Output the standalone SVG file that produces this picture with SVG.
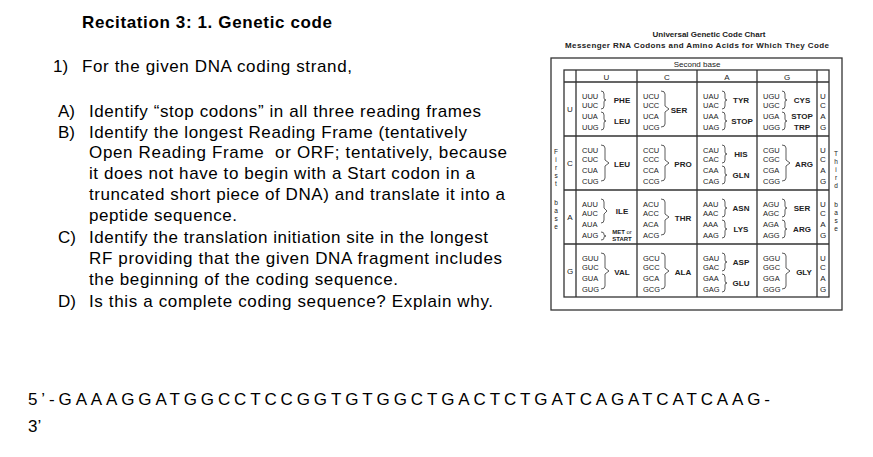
<svg xmlns="http://www.w3.org/2000/svg" width="873" height="457" viewBox="0 0 873 457">
<style>
.t{font-family:"Liberation Sans",Arial,sans-serif;font-size:17px;fill:#000}
.c{font-family:"Liberation Sans",Arial,sans-serif;font-size:7.5px;fill:#222}
.a{font-family:"Liberation Sans",Arial,sans-serif;font-size:8px;font-weight:bold;fill:#222;text-anchor:middle}
.s{font-family:"Liberation Sans",Arial,sans-serif;font-size:6px;font-weight:bold;fill:#222;text-anchor:middle}
.h{font-family:"Liberation Sans",Arial,sans-serif;font-size:8px;fill:#222;text-anchor:middle}
.v{font-family:"Liberation Sans",Arial,sans-serif;font-size:6.5px;fill:#222;text-anchor:middle}
.g{stroke:#333;stroke-width:1.3;fill:none}
.b{stroke:#333;stroke-width:0.8;fill:none}
</style>
<rect width="873" height="457" fill="#fff"/>
<g id="text">
<text class="t" x="82" y="28" font-weight="bold" textLength="250">Recitation 3: 1. Genetic code</text>
<text class="t" x="53" y="72">1)</text>
<text class="t" x="82" y="72" textLength="270">For the given DNA coding strand,</text>
<text class="t" x="58" y="117">A)</text>
<text class="t" x="89" y="117" textLength="392">Identify “stop codons” in all three reading frames</text>
<text class="t" x="58" y="138">B)</text>
<text class="t" x="89" y="138" textLength="378">Identify the longest Reading Frame (tentatively</text>
<text class="t" x="89" y="158" textLength="418" xml:space="preserve">Open Reading Frame  or ORF; tentatively, because</text>
<text class="t" x="89" y="179" textLength="386">it does not have to begin with a Start codon in a</text>
<text class="t" x="89" y="200" textLength="416">truncated short piece of DNA) and translate it into a</text>
<text class="t" x="89" y="221" textLength="148">peptide sequence.</text>
<text class="t" x="58" y="243">C)</text>
<text class="t" x="89" y="243" textLength="399">Identify the translation initiation site in the longest</text>
<text class="t" x="89" y="264" textLength="413">RF providing that the given DNA fragment includes</text>
<text class="t" x="89" y="285" textLength="309">the beginning of the coding sequence.</text>
<text class="t" x="58" y="307">D)</text>
<text class="t" x="89" y="307" textLength="404">Is this a complete coding sequence? Explain why.</text>
<text class="t" x="28" y="405" font-size="22" textLength="742">5’-GAAAGGATGGCCTCCGGTGTGGCTGACTCTGATCAGATCATCAAG-</text>
<text class="t" x="28" y="432" font-size="22">3’</text>
</g>
<g id="chart">
<text class="h" x="709" y="37" font-size="9" font-weight="bold">Universal Genetic Code Chart</text>
<text class="h" x="697" y="48" font-size="7.3" font-weight="bold" textLength="264">Messenger RNA Codons and Amino Acids for Which They Code</text>
<rect x="551" y="58" width="291" height="252" class="g"/>
<text class="h" x="697" y="67">Second base</text>
<rect x="564" y="70" width="265" height="227" class="g"/>
<path class="g" d="M576 70V297M637 70V297M697 70V297M757 70V297M817 70V297M564 82H829M564 136H829M564 190H829M564 244H829"/>
<text class="h" x="606.5" y="79.5">U</text><text class="h" x="667" y="79.5">C</text><text class="h" x="727" y="79.5">A</text><text class="h" x="787" y="79.5">G</text>
<text class="h" x="570" y="112">U</text><text class="h" x="570" y="166">C</text><text class="h" x="570" y="220">A</text><text class="h" x="570" y="274">G</text>
<g class="v">
<text x="556" y="154">F</text><text x="556" y="162">i</text><text x="556" y="170">r</text><text x="556" y="178">s</text><text x="556" y="186">t</text>
<text x="556" y="205">b</text><text x="556" y="213">a</text><text x="556" y="221">s</text><text x="556" y="229">e</text>
<text x="836" y="156">T</text><text x="836" y="164">h</text><text x="836" y="172">i</text><text x="836" y="180">r</text><text x="836" y="188">d</text>
<text x="836" y="207">b</text><text x="836" y="215">a</text><text x="836" y="223">s</text><text x="836" y="231">e</text>
</g>
<g class="h">
<text x="823" y="98.5">U</text><text x="823" y="108">C</text><text x="823" y="119">A</text><text x="823" y="129.5">G</text>
<text x="823" y="152.5">U</text><text x="823" y="162">C</text><text x="823" y="173">A</text><text x="823" y="183.5">G</text>
<text x="823" y="206.5">U</text><text x="823" y="216">C</text><text x="823" y="227">A</text><text x="823" y="237.5">G</text>
<text x="823" y="260.5">U</text><text x="823" y="270">C</text><text x="823" y="281">A</text><text x="823" y="291.5">G</text>
</g>
<g class="c">
<text x="582" y="98.5">UUU</text><text x="582" y="108">UUC</text><text x="582" y="119">UUA</text><text x="582" y="129.5">UUG</text>
<text x="643" y="98.5">UCU</text><text x="643" y="108">UCC</text><text x="643" y="119">UCA</text><text x="643" y="129.5">UCG</text>
<text x="703" y="98.5">UAU</text><text x="703" y="108">UAC</text><text x="703" y="119">UAA</text><text x="703" y="129.5">UAG</text>
<text x="763" y="98.5">UGU</text><text x="763" y="108">UGC</text><text x="763" y="119">UGA</text><text x="763" y="129.5">UGG</text>
<text x="582" y="152.5">CUU</text><text x="582" y="162">CUC</text><text x="582" y="173">CUA</text><text x="582" y="183.5">CUG</text>
<text x="643" y="152.5">CCU</text><text x="643" y="162">CCC</text><text x="643" y="173">CCA</text><text x="643" y="183.5">CCG</text>
<text x="703" y="152.5">CAU</text><text x="703" y="162">CAC</text><text x="703" y="173">CAA</text><text x="703" y="183.5">CAG</text>
<text x="763" y="152.5">CGU</text><text x="763" y="162">CGC</text><text x="763" y="173">CGA</text><text x="763" y="183.5">CGG</text>
<text x="582" y="206.5">AUU</text><text x="582" y="216">AUC</text><text x="582" y="227">AUA</text><text x="582" y="237.5">AUG</text>
<text x="643" y="206.5">ACU</text><text x="643" y="216">ACC</text><text x="643" y="227">ACA</text><text x="643" y="237.5">ACG</text>
<text x="703" y="206.5">AAU</text><text x="703" y="216">AAC</text><text x="703" y="227">AAA</text><text x="703" y="237.5">AAG</text>
<text x="763" y="206.5">AGU</text><text x="763" y="216">AGC</text><text x="763" y="227">AGA</text><text x="763" y="237.5">AGG</text>
<text x="582" y="260.5">GUU</text><text x="582" y="270">GUC</text><text x="582" y="281">GUA</text><text x="582" y="291.5">GUG</text>
<text x="643" y="260.5">GCU</text><text x="643" y="270">GCC</text><text x="643" y="281">GCA</text><text x="643" y="291.5">GCG</text>
<text x="703" y="260.5">GAU</text><text x="703" y="270">GAC</text><text x="703" y="281">GAA</text><text x="703" y="291.5">GAG</text>
<text x="763" y="260.5">GGU</text><text x="763" y="270">GGC</text><text x="763" y="281">GGA</text><text x="763" y="291.5">GGG</text>
</g>
<g class="b">
<!-- 2-codon braces: top T+9, bottom T+29 / T+30 to T+50 -->
<path d="M601 91q3 0 3 3v4q0 2 2 2q-2 0-2 2v4q0 3-3 3M601 112q3 0 3 3v4q0 2 2 2q-2 0-2 2v4q0 3-3 3"/>
<path d="M722 91q3 0 3 3v4q0 2 2 2q-2 0-2 2v4q0 3-3 3M722 112q3 0 3 3v4q0 2 2 2q-2 0-2 2v4q0 3-3 3"/>
<path d="M782 91q3 0 3 3v4q0 2 2 2q-2 0-2 2v4q0 3-3 3M782 112q3 0 3 3v4q0 2 2 2q-2 0-2 2v4q0 3-3 3"/>
<path d="M722 145q3 0 3 3v4q0 2 2 2q-2 0-2 2v4q0 3-3 3M722 166q3 0 3 3v4q0 2 2 2q-2 0-2 2v4q0 3-3 3"/>
<path d="M722 199q3 0 3 3v4q0 2 2 2q-2 0-2 2v4q0 3-3 3M722 220q3 0 3 3v4q0 2 2 2q-2 0-2 2v4q0 3-3 3"/>
<path d="M782 199q3 0 3 3v4q0 2 2 2q-2 0-2 2v4q0 3-3 3M782 220q3 0 3 3v4q0 2 2 2q-2 0-2 2v4q0 3-3 3"/>
<path d="M722 253q3 0 3 3v4q0 2 2 2q-2 0-2 2v4q0 3-3 3M722 274q3 0 3 3v4q0 2 2 2q-2 0-2 2v4q0 3-3 3"/>
<!-- 4-codon brackets -->
<path d="M661 91q4 0 4 3v12l4 3l-4 3v12q0 3-4 3"/>
<path d="M601 145q4 0 4 3v12l4 3l-4 3v12q0 3-4 3"/>
<path d="M661 145q4 0 4 3v12l4 3l-4 3v12q0 3-4 3"/>
<path d="M782 145q4 0 4 3v12l4 3l-4 3v12q0 3-4 3"/>
<path d="M661 199q4 0 4 3v12l4 3l-4 3v12q0 3-4 3"/>
<path d="M601 253q4 0 4 3v12l4 3l-4 3v12q0 3-4 3"/>
<path d="M661 253q4 0 4 3v12l4 3l-4 3v12q0 3-4 3"/>
<path d="M782 253q4 0 4 3v12l4 3l-4 3v12q0 3-4 3"/>
<!-- ILE 3 codons, AUG single -->
<path d="M601 199q3 0 3 3v6l3 3l-3 3v6q0 3-3 3"/>
<path d="M601 232q3 0 3 2v1q0 1 2 1q-2 0-2 1v1q0 2-3 2"/>
</g>
<g class="a">
<text x="622" y="103">PHE</text><text x="622" y="124">LEU</text>
<text x="679" y="113">SER</text>
<text x="741" y="103">TYR</text><text x="742" y="124">STOP</text>
<text x="802" y="103">CYS</text><text x="802" y="119">STOP</text><text x="802" y="130">TRP</text>
<text x="622" y="167">LEU</text><text x="683" y="167">PRO</text>
<text x="741" y="157">HIS</text><text x="741" y="178">GLN</text>
<text x="804" y="167">ARG</text>
<text x="622" y="214">ILE</text>
<text x="683" y="221">THR</text>
<text x="741" y="211">ASN</text><text x="741" y="232">LYS</text>
<text x="802" y="211">SER</text><text x="802" y="232">ARG</text>
<text x="622" y="275">VAL</text><text x="683" y="275">ALA</text>
<text x="741" y="265">ASP</text><text x="741" y="286">GLU</text>
<text x="804" y="275">GLY</text>
</g>
<text class="s" x="622" y="234">MET <tspan font-weight="normal">or</tspan></text>
<text class="s" x="622" y="240.5">START</text>
</g>
</svg>
